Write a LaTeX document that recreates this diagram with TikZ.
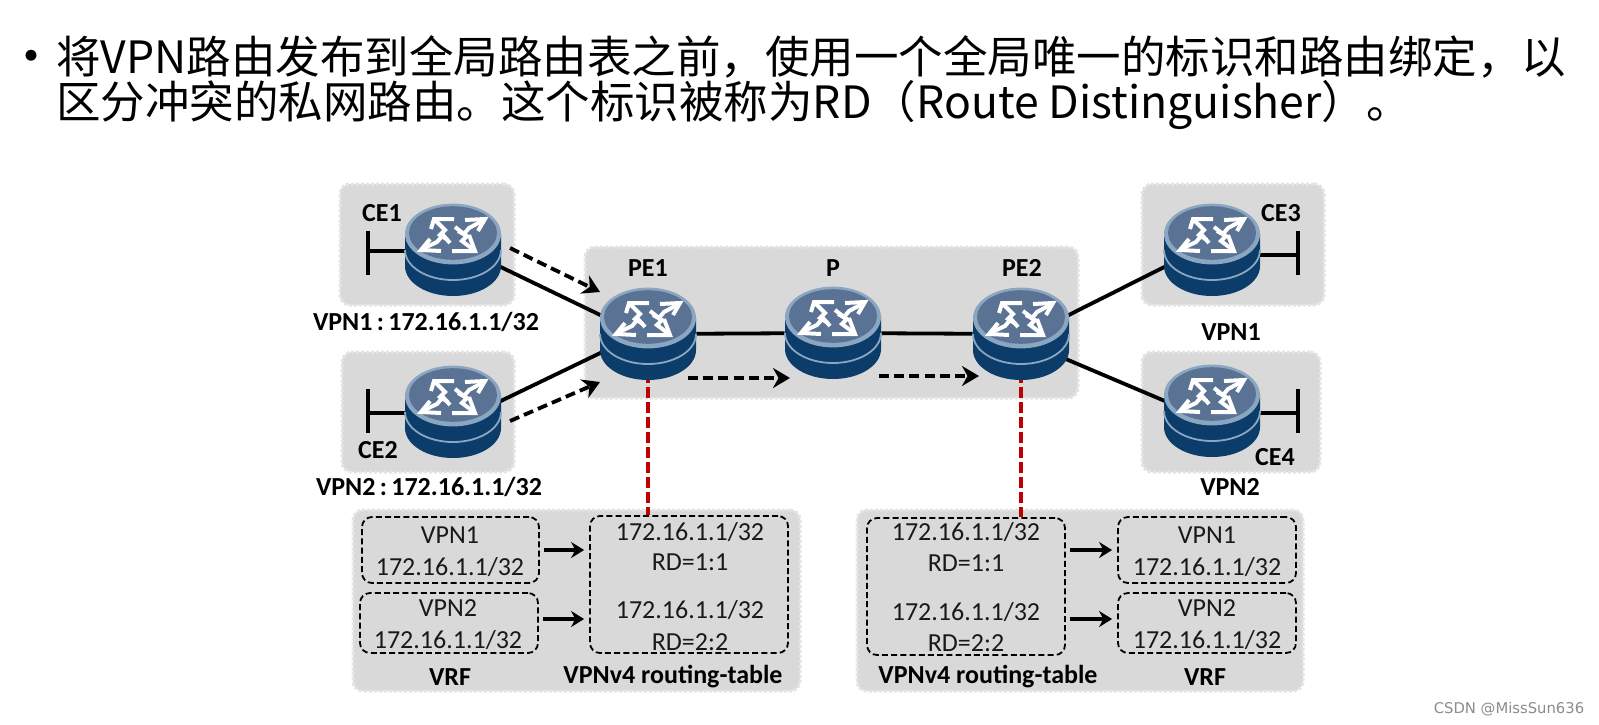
\documentclass[tikz,border=0pt]{standalone}
\usepackage{fontspec}
\setmainfont{Carlito}
\newfontfamily\cjk{Noto Sans CJK SC}
\newfontfamily\wmfont{DejaVu Sans}
\usetikzlibrary{arrows.meta,calc,fit}
\definecolor{boxgray}{HTML}{D9D9D9}
\definecolor{rimblue}{HTML}{8AA6C0}
\definecolor{topblue}{HTML}{5A7293}
\definecolor{bodyblue}{HTML}{0C3C6A}
\definecolor{redline}{HTML}{C00000}
\tikzset{
  graybox/.style={fill=boxgray,draw=boxgray!70,densely dotted,line width=1.5pt,rounded corners=5pt,inner sep=0pt},
  dashbox/.style={draw=black,dash pattern=on 3pt off 1.6pt,line width=0.9pt,rounded corners=5pt,inner sep=0pt},
  iptext/.style={font=\fontsize{13pt}{15pt}\selectfont,inner sep=0pt,text=black!90},
  boldtext/.style={font=\fontsize{13pt}{15pt}\selectfont\bfseries,inner sep=0pt},
  titletext/.style={font=\cjk\fontsize{22.25pt}{26pt}\selectfont,inner sep=0pt,anchor=west},
  link/.style={line width=1.9pt,black},
  flow/.style={line width=1.9pt,black,dash pattern=on 5pt off 2.6pt,-{Stealth[length=8.5pt,width=10pt]}},
  redlink/.style={line width=1.7pt,redline,dash pattern=on 5.5pt off 2pt},
  solidarrow/.style={line width=2.1pt,black,-{Stealth[length=6.5pt,width=8pt]},shorten <=2pt,shorten >=2.5pt},
  rnode/.style={inner sep=0pt,minimum width=48pt,minimum height=38pt},
  whitearrow/.style={white,line width=2pt,line join=miter,miter limit=3},
}
\newcommand{\routerart}[2]{%
  \begin{scope}[shift={(#1,#2)}]
    \fill[bodyblue] (-48,0) -- (-48,32) arc[start angle=180,end angle=360,x radius=24pt,y radius=15pt] -- (48,0) -- cycle;
    \draw[rimblue,line width=0.9pt] (-48,16) arc[start angle=180,end angle=360,x radius=24pt,y radius=15pt];
    \fill[rimblue] (0,0) ellipse[x radius=24pt,y radius=15.2pt];
    \fill[topblue] (0,-1) ellipse[x radius=22pt,y radius=13.4pt];
    \draw[whitearrow] (1,-15) -- (-19,-15) -- (-22,-5);
    \draw[whitearrow] (-18,-14) -- (-8,-4) -- (-13,1) -- (-5,6);
    \draw[whitearrow] (12,-14) -- (32,-15) -- (25,-3);
    \draw[whitearrow] (31,-14) -- (16,-6) -- (11,0) -- (2,-7);
    \draw[whitearrow] (-12,17) -- (-32,16) -- (-23,5);
    \draw[whitearrow] (-31,15) -- (-16,8) -- (-10,1) -- (-3,9);
    \draw[whitearrow] (-1,17) -- (22,17) -- (16,1);
    \draw[whitearrow] (21,16) -- (9,7) -- (14,2) -- (5,-3);
  \end{scope}}
\begin{document}
\begin{tikzpicture}[x=0.5pt,y=-0.5pt]
\useasboundingbox (0,0) rectangle (1599,724);
\fill[white] (0,0) rectangle (1599,724);

% title
\node[font=\cjk\fontsize{26pt}{30pt}\selectfont,inner sep=0pt] (bullet) at (31,63) {•};
\node[titletext] (t1) at (56,57) {将VPN路由发布到全局路由表之前，使用一个全局唯一的标识和路由绑定，以};
\node[titletext] (t2) at (56,105) {区分冲突的私网路由。这个标识被称为RD（Route Distinguisher）。};

% grey panels
\node[graybox,fit={(340,184)(514,305)}] (gce1) {};
\node[graybox,fit={(342,352)(514,472)}] (gce2) {};
\node[graybox,fit={(585,247)(1078,398)}] (gcore) {};
\node[graybox,fit={(1142,184)(1324,305)}] (gce3) {};
\node[graybox,fit={(1142,352)(1320,472)}] (gce4) {};
\node[graybox,fit={(353,510)(800,691)}] (gl) {};
\node[graybox,fit={(857,510)(1303,691)}] (gr) {};

% router anchors
\node[rnode] (ce1) at (453,250) {};
\node[rnode] (ce2) at (453,412) {};
\node[rnode] (pe1) at (648,334) {};
\node[rnode] (p) at (833,333) {};
\node[rnode] (pe2) at (1021,334) {};
\node[rnode] (ce3) at (1212,250) {};
\node[rnode] (ce4) at (1212,411) {};

% dashed boxes
\node[dashbox,fit={(362,517)(539,583)}] (lvpna) {};
\node[dashbox,fit={(360,593)(538,653)}] (lvpnb) {};
\node[dashbox,fit={(590,516)(788,653)}] (ltable) {};
\node[dashbox,fit={(867,518)(1065,655)}] (rtable) {};
\node[dashbox,fit={(1118,517)(1296,583)}] (rvpna) {};
\node[dashbox,fit={(1118,593)(1296,653)}] (rvpnb) {};

% links
\draw[link] ($(ce1)+(0,-6)$) -- ($(pe1)+(0,4)$);
\draw[link] ($(ce2)+(0,12)$) -- ($(pe1)+(0,-4)$);
\draw[link] (pe1) -- (p);
\draw[link] (p) -- (pe2);
\draw[link] ($(pe2)+(0,5)$) -- ($(ce3)+(0,-7)$);
\draw[link] ($(pe2)+(0,6)$) -- ($(ce4)+(0,10)$);

% stubs
\coordinate (s1) at (368,251); \coordinate (s1a) at (368,231); \coordinate (s1b) at (368,275);
\coordinate (s2) at (368,413); \coordinate (s2a) at (368,389); \coordinate (s2b) at (368,433);
\coordinate (s3) at (1298,255); \coordinate (s3a) at (1298,231); \coordinate (s3b) at (1298,275);
\coordinate (s4) at (1298,413); \coordinate (s4a) at (1298,389); \coordinate (s4b) at (1298,433);
\draw[link] (s1a) -- (s1b); \draw[link] (s1) -- (s1 -| ce1);
\draw[link] (s2a) -- (s2b); \draw[link] (s2) -- (s2 -| ce2);
\draw[link] (s3a) -- (s3b); \draw[link] (s3) -- (s3 -| ce3);
\draw[link] (s4a) -- (s4b); \draw[link] (s4) -- (s4 -| ce4);

% red links
\draw[redlink] (pe1) -- (pe1 |- ltable.north);
\draw[redlink] (pe2) -- (pe2 |- rtable.north);

% routers
\routerart{453}{234}
\routerart{453}{396}
\routerart{648}{318}
\routerart{833}{317}
\routerart{1021}{318}
\routerart{1212}{234}
\routerart{1212}{395}

% flow arrows
\coordinate (fa1) at (510,248); \coordinate (fa2) at (600,292);
\coordinate (fb1) at (510,421); \coordinate (fb2) at (600,382);
\coordinate (fc1) at (688,378); \coordinate (fc2) at (790,378);
\coordinate (fd1) at (879,376); \coordinate (fd2) at (979,376);
\draw[flow] (fa1) -- (fa2);
\draw[flow] (fb1) -- (fb2);
\draw[flow] (fc1) -- (fc2);
\draw[flow] (fd1) -- (fd2);

% solid arrows
\coordinate (rowb) at ($(rvpnb.west)+(0,-4)$);
\coordinate (rowl) at ($(lvpnb.east)+(0,-4)$);
\draw[solidarrow] (lvpna.east) -- (lvpna.east -| ltable.west);
\draw[solidarrow] (rowl) -- (rowl -| ltable.west);
\draw[solidarrow] (rtable.east |- rvpna.west) -- (rvpna.west);
\draw[solidarrow] (rtable.east |- rowb) -- (rowb);

% router labels
\node[boldtext] (lce1) at (382,213) {CE1};
\node[boldtext] (lce2) at (378,450) {CE2};
\node[boldtext] (lpe1) at (648,268) {PE1};
\node[boldtext] (lp) at (833,268) {P};
\node[boldtext] (lpe2) at (1022,268) {PE2};
\node[boldtext] (lce3) at (1281,213) {CE3};
\node[boldtext] (lce4) at (1275,457) {CE4};
\node[boldtext] (lv1) at (426,322) {VPN1\,:\,172.16.1.1/32};
\node[boldtext] (lv2) at (429,487) {VPN2\,:\,172.16.1.1/32};
\node[boldtext] (rv1) at (1231,332) {VPN1};
\node[boldtext] (rv2) at (1230,487) {VPN2};

% left tables
\node[iptext] (a1) at (450,535) {VPN1};
\node[iptext] (a2) at (450,567) {172.16.1.1/32};
\node[iptext] (a3) at (448,608) {VPN2};
\node[iptext] (a4) at (448,640) {172.16.1.1/32};
\node[iptext] (a5) at (690,532) {172.16.1.1/32};
\node[iptext] (a6) at (690,562) {RD=1:1};
\node[iptext] (a7) at (690,610) {172.16.1.1/32};
\node[iptext] (a8) at (690,642) {RD=2:2};
\node[boldtext] (a9) at (450,677) {VRF};
\node[boldtext] (a10) at (673,677) {VPNv4 routing-table};

% right tables
\node[iptext] (b1) at (966,532) {172.16.1.1/32};
\node[iptext] (b2) at (966,563) {RD=1:1};
\node[iptext] (b3) at (966,612) {172.16.1.1/32};
\node[iptext] (b4) at (966,643) {RD=2:2};
\node[iptext] (b5) at (1207,535) {VPN1};
\node[iptext] (b6) at (1207,567) {172.16.1.1/32};
\node[iptext] (b7) at (1207,608) {VPN2};
\node[iptext] (b8) at (1207,640) {172.16.1.1/32};
\node[boldtext] (b9) at (988,677) {VPNv4 routing-table};
\node[boldtext] (b10) at (1205,677) {VRF};

% watermark
\node[font=\wmfont\fontsize{7.4pt}{9pt}\selectfont,text=black!45,inner sep=0pt] (wm) at (1509,709) {CSDN @MissSun636};
\end{tikzpicture}
\end{document}
